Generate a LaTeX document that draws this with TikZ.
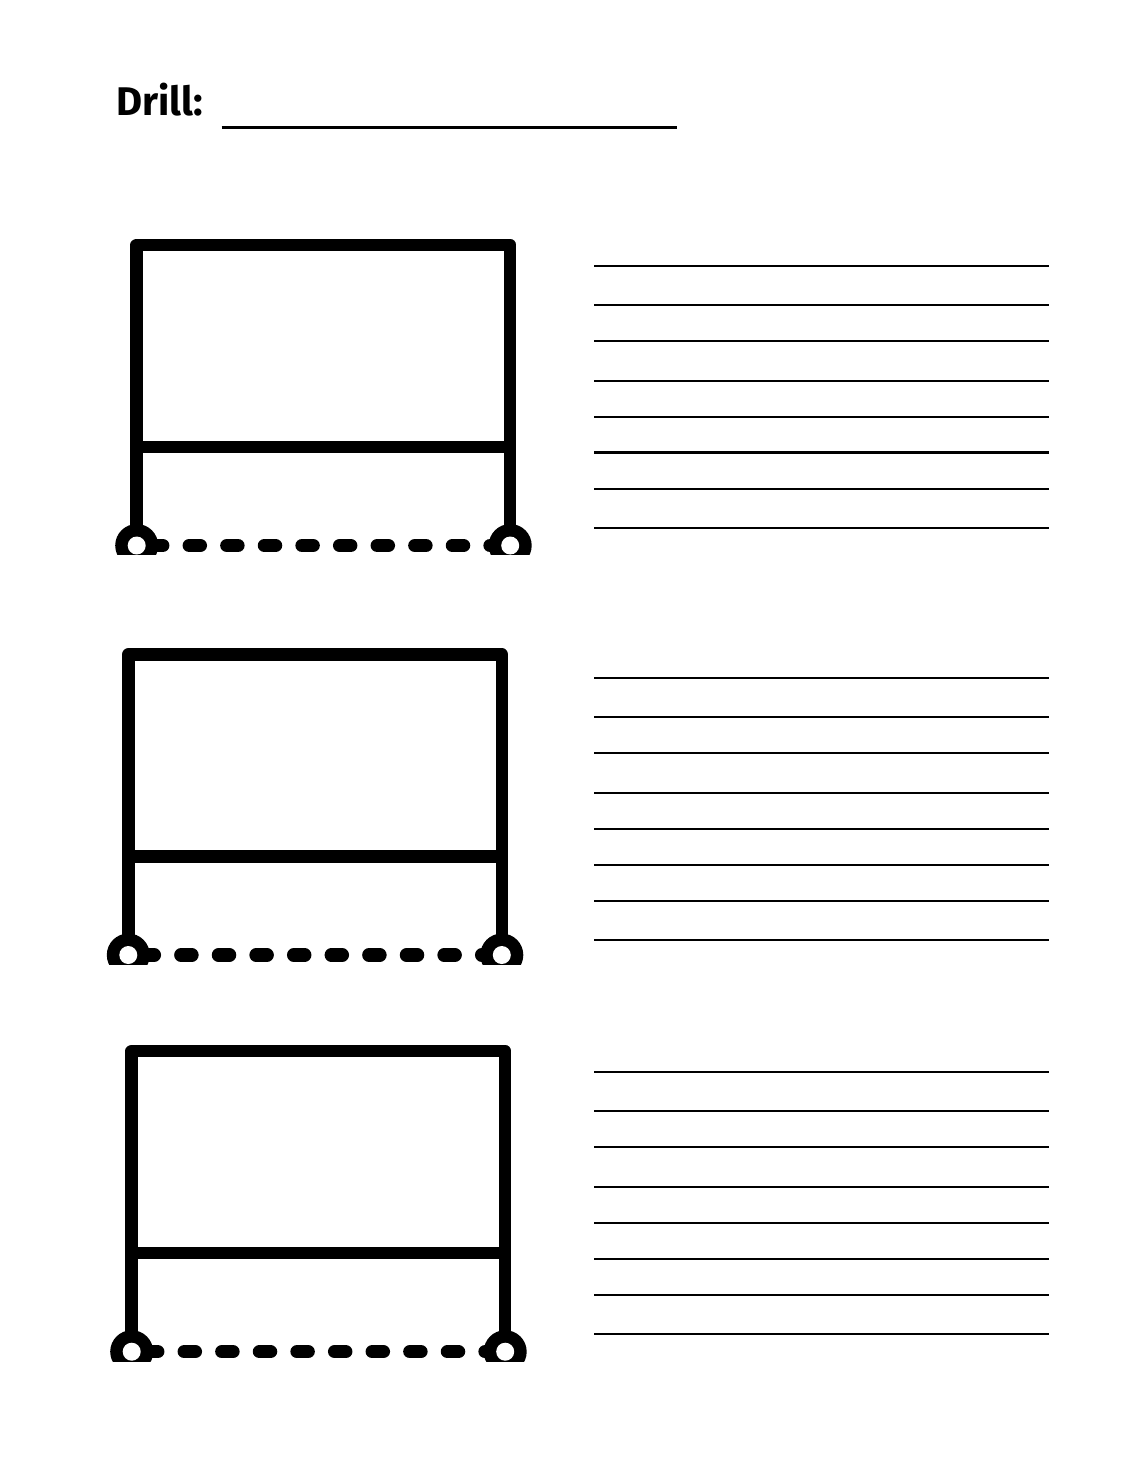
\documentclass[tikz,border=0pt]{standalone}
\usepackage{fontspec}
\setmainfont{Fira Sans}
\begin{document}
\begin{tikzpicture}[x=1pt,y=-1pt,
  framebar/.style={line width=12.5pt,line join=round},
  dashbar/.style={line width=13.5pt,line cap=round,dash pattern=on 11pt off 26.6pt},
  writeline/.style={line width=2.2pt},
  titletext/.style={anchor=base west,inner sep=0pt,font=\fontsize{40}{48}\selectfont\bfseries}]
\useasboundingbox[fill=white] (0,0) rectangle (1140,1476);
% title
\node[titletext] (title) at (116,115.5) {Drill:};
\coordinate (ulA) at (221.7,127.7);
\coordinate (ulB) at (676.7,127.7);
\draw[line width=2.5pt] (ulA) -- (ulB);
% frames
\foreach \L/\T/\Y in {136.7/245/266, 128.3/654.5/678.3, 131.7/1051.2/1072.3}{
  \pgfmathsetmacro{\R}{\L+373.5}
  \pgfmathsetmacro{\M}{\T+202}
  \pgfmathsetmacro{\W}{\T+300.5}
  \draw[framebar] (\L,\W) -- (\L,\T) -- (\R,\T) -- (\R,\W);
  \draw[framebar] (\L,\M) -- (\R,\M);
  \draw[dashbar] (\L+15,\W) -- (\R,\W);
  \begin{scope}
    \clip (\L-30,\W-30) rectangle (\L+30,\W+9.3);
    \fill (\L,\W) circle[radius=21.5];
  \end{scope}
  \begin{scope}
    \clip (\R-30,\W-30) rectangle (\R+30,\W+9.3);
    \fill (\R,\W) circle[radius=21.5];
  \end{scope}
  \fill[white] (\L,\W) circle[radius=9];
  \fill[white] (\R,\W) circle[radius=9];
  \foreach \d in {0,39,75,115,150.7,186.5,222.7,261.8}{
    \draw[writeline] (594,\Y+\d) -- (1049.3,\Y+\d);
  }
}
\end{tikzpicture}
\end{document}
